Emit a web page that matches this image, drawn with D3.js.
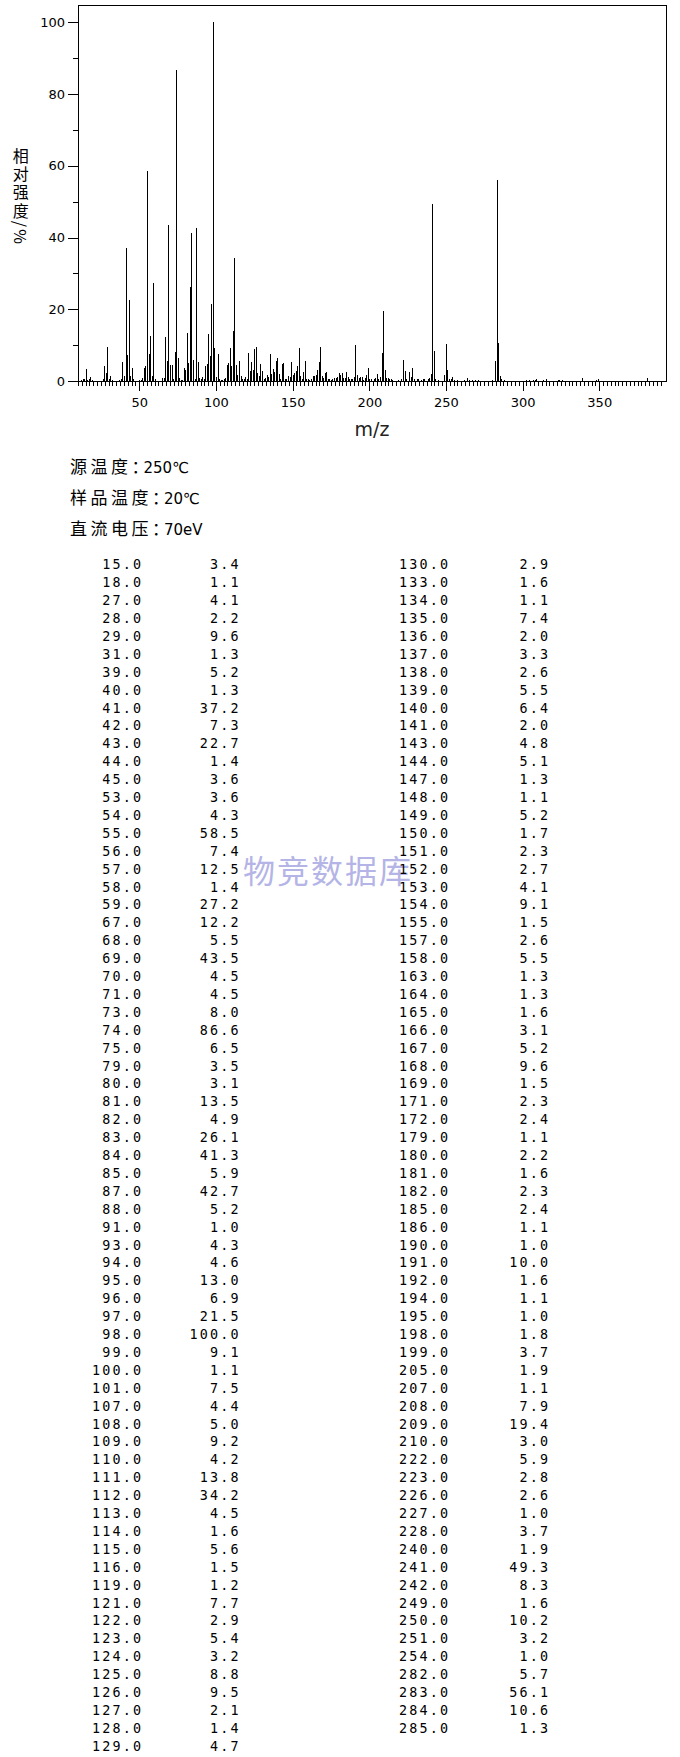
<!DOCTYPE html>
<html><head><meta charset="utf-8">
<script src="https://cdn.jsdelivr.net/npm/d3@7"></script>
<style>
html,body{margin:0;padding:0;background:#fff;}
svg{display:block;}
</style></head><body>
<script>
// ---- data ----
const mzList = [15,18,27,28,29,31,39,40,41,42,43,44,45,53,54,55,56,57,58,59,67,68,69,70,71,73,74,75,79,80,81,82,83,
  84,85,87,88,91,93,94,95,96,97,98,99,100,101,107,108,109,110,111,112,113,114,115,116,119,121,122,123,124,125,126,127,128,129,
  130,133,134,135,136,137,138,139,140,141,143,144,147,148,149,150,151,152,153,154,155,157,158,163,164,165,166,167,168,169,171,172,179,
  180,181,182,185,186,190,191,192,194,195,198,199,205,207,208,209,210,222,223,226,227,228,240,241,242,249,250,251,254,282,283,284,285];
const intensityList = [3.4,1.1,4.1,2.2,9.6,1.3,5.2,1.3,37.2,7.3,22.7,1.4,3.6,3.6,4.3,58.5,7.4,12.5,1.4,27.2,12.2,5.5,43.5,4.5,4.5,8.0,86.6,6.5,3.5,3.1,13.5,4.9,26.1,
  41.3,5.9,42.7,5.2,1.0,4.3,4.6,13.0,6.9,21.5,100.0,9.1,1.1,7.5,4.4,5.0,9.2,4.2,13.8,34.2,4.5,1.6,5.6,1.5,1.2,7.7,2.9,5.4,3.2,8.8,9.5,2.1,1.4,4.7,
  2.9,1.6,1.1,7.4,2.0,3.3,2.6,5.5,6.4,2.0,4.8,5.1,1.3,1.1,5.2,1.7,2.3,2.7,4.1,9.1,1.5,2.6,5.5,1.3,1.3,1.6,3.1,5.2,9.6,1.5,2.3,2.4,1.1,
  2.2,1.6,2.3,2.4,1.1,1.0,10.0,1.6,1.1,1.0,1.8,3.7,1.9,1.1,7.9,19.4,3.0,5.9,2.8,2.6,1.0,3.7,1.9,49.3,8.3,1.6,10.2,3.2,1.0,5.7,56.1,10.6,1.3];
// small peaks (< 1 %) visible in the plot but not listed in the table (estimated)
const minorMz = [12,13,14,16,17,19,26,30,32,37,38,46,50,51,52,60,65,66,72,76,77,78,86,89,90,92,102,103,104,105,106,117,118,120,
  131,132,142,145,146,156,159,160,161,162,170,173,174,175,176,177,178,183,184,187,188,189,193,196,197,200,201,203,204,206,
  211,212,213,214,215,219,221,224,229,231,232,234,235,236,238,239,243,245,252,253,255,257,262,264,265,267,269,271,280,286,288,
  302,304,307,308,309,313,315,323,324,326,339,348,349,381];
const minorIntensity = [0.4,0.5,0.6,0.4,0.5,0.3,0.5,0.5,0.3,0.4,0.5,0.5,0.3,0.4,0.8,0.5,0.7,0.8,0.5,0.7,0.4,0.4,0.5,0.7,0.5,0.6,0.6,0.4,0.4,0.5,0.8,0.5,0.6,0.6,
  0.6,0.8,0.6,0.6,0.5,0.6,0.5,0.6,0.4,0.6,0.8,0.6,0.6,0.4,0.6,0.8,0.9,0.8,0.8,0.6,0.6,0.6,0.8,0.4,0.8,0.6,0.6,0.6,0.8,0.6,
  0.7,0.9,0.5,0.6,0.3,0.4,0.6,0.6,0.6,0.6,0.6,0.4,0.6,0.6,0.6,0.8,0.6,0.3,0.6,0.6,0.4,0.4,0.4,0.8,0.4,0.4,0.4,0.4,0.4,0.6,0.4,
  0.4,0.4,0.4,0.3,0.6,0.3,0.6,0.4,0.4,0.3,0.8,0.4,0.5,0.9];
const xTickMajor = [50,100,150,200,250,300,350];
const yTickMajor = [0,20,40,60,80,100];
const yTickMinor = [10,30,50,70,90];
const headerLabels = ["源温度","样品温度","直流电压"];
const headerValues = ["250℃","20℃","70eV"];
const xTitle = "m/z";
const yTitle = "相对强度/%";
const watermarkText = "物竞数据库";

// ---- drawing ----
const W = 680, H = 1757;
const svg = d3.select("body").append("svg").attr("width", W).attr("height", H);

const x = d3.scaleLinear().domain([10, 394]).range([78, 666.7]);
const y = d3.scaleLinear().domain([0, 100]).range([381, 22.3]);

const chart = svg.append("g");

// frame
chart.append("rect").attr("x", 78.5).attr("y", 5.5).attr("width", 588).attr("height", 376)
  .attr("fill", "none").attr("stroke", "#000").attr("stroke-width", 1).attr("shape-rendering", "crispEdges");

// peaks
const peaks = mzList.map((m, i) => ({m, v: intensityList[i]}))
  .concat(minorMz.map((m, i) => ({m, v: minorIntensity[i]})));
chart.append("g").selectAll("line").data(peaks).join("line")
  .attr("x1", d => Math.round(x(d.m)) + 0.5).attr("x2", d => Math.round(x(d.m)) + 0.5)
  .attr("y1", y(0)).attr("y2", d => Math.round(y(d.v)))
  .attr("stroke", "#000").attr("stroke-width", 1).attr("shape-rendering", "crispEdges");

// axes
const axisFont = g => g.selectAll("text").attr("font-family", "DejaVu Sans").attr("font-size", 13).attr("fill", "#000");
const xMinorTicks = d3.range(10, 390.01, 2.5).filter(v => v % 50 !== 0);
chart.append("g").attr("transform", `translate(0,${y(0)})`)
  .call(d3.axisBottom(x).tickValues(xMinorTicks).tickSize(5).tickFormat(""))
  .call(g => g.select(".domain").remove());
chart.append("g").attr("transform", `translate(0,${y(0)})`)
  .call(d3.axisBottom(x).tickValues(xTickMajor).tickSize(10).tickPadding(7))
  .call(g => g.select(".domain").remove()).call(axisFont);
chart.append("g").attr("transform", `translate(78,0)`)
  .call(d3.axisLeft(y).tickValues(yTickMinor).tickSize(5).tickFormat(""))
  .call(g => g.select(".domain").remove());
chart.append("g").attr("transform", `translate(78,0)`)
  .call(d3.axisLeft(y).tickValues(yTickMajor).tickSize(10).tickPadding(3))
  .call(g => g.select(".domain").remove()).call(axisFont);
chart.selectAll(".tick line").attr("shape-rendering", "crispEdges");

// axis titles
chart.append("text").attr("x", 372).attr("y", 436).attr("text-anchor", "middle")
  .attr("font-family", "DejaVu Sans").attr("font-size", 19).attr("fill", "#222").text(xTitle);
chart.append("text").attr("x", 20.7).attr("y", 148)
  .style("writing-mode", "vertical-rl")
  .attr("font-family", "Noto Sans CJK SC").attr("font-size", 16).attr("letter-spacing", 2.2)
  .attr("fill", "#000").text(yTitle);

// header lines
const header = svg.append("g");
const hy = d3.scaleLinear().domain([0, 1]).range([473, 504]);
headerLabels.forEach((lab, i) => {
  const t = header.append("text").attr("x", 70).attr("y", hy(i)).attr("fill", "#000");
  t.append("tspan").attr("font-family", "Noto Sans CJK SC").attr("font-size", 17).attr("letter-spacing", 3.5).text(lab);
  t.append("tspan").attr("font-family", "Noto Sans CJK SC").attr("font-size", 17).attr("letter-spacing", -5).text("：");
  t.append("tspan").attr("font-family", "DejaVu Sans, Noto Sans CJK SC").attr("font-size", 15).text(headerValues[i]);
});

// watermark
svg.append("text").attr("x", 243).attr("y", 883).attr("font-family", "Noto Sans CJK SC")
  .attr("font-size", 32).attr("letter-spacing", 2).attr("fill", "#b4b4e6").text(watermarkText);

// table
const nLeft = Math.ceil(mzList.length / 2);
const rows = mzList.map((m, i) => ({m, v: intensityList[i], col: i < nLeft ? 0 : 1, r: i < nLeft ? i : i - nLeft}));
const rowY = d3.scaleLinear().domain([0, 1]).range([569.3, 569.3 + 17.9]);
const ls = 2.2;
const colMz = [141, 448], colVal = [238.6, 548];
const table = svg.append("g").attr("font-family", "DejaVu Sans Mono").attr("font-size", 13.4)
  .attr("letter-spacing", ls).attr("fill", "#000").attr("text-anchor", "end");
table.selectAll("text.mz").data(rows).join("text").attr("class", "mz")
  .attr("x", d => colMz[d.col] + ls).attr("y", d => rowY(d.r)).text(d => d.m.toFixed(1));
table.selectAll("text.val").data(rows).join("text").attr("class", "val")
  .attr("x", d => colVal[d.col] + ls).attr("y", d => rowY(d.r)).text(d => d.v.toFixed(1));
</script>
</body></html>
